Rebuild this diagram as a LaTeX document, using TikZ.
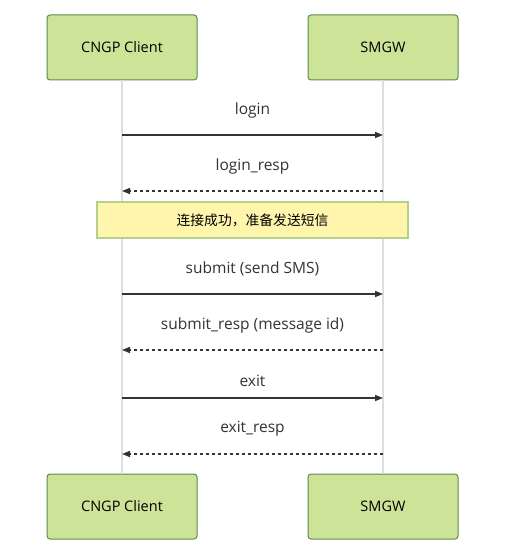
\documentclass[tikz,border=0pt]{standalone}
\usepackage{fontspec}
\setmainfont{Open Sans}
\newfontfamily\cjk{Noto Sans CJK SC}
\usetikzlibrary{arrows.meta}
\definecolor{actorfill}{HTML}{CDE498}
\definecolor{actorline}{HTML}{5E8A4A}
\definecolor{notefill}{HTML}{FFF5AD}
\definecolor{noteline}{HTML}{B4D08C}
\definecolor{msgline}{HTML}{333333}
\tikzset{
  actor/.style={draw=actorline, fill=actorfill, line width=1pt, rounded corners=3pt,
    minimum width=150pt, minimum height=65pt, inner sep=0pt, font=\fontsize{14.5}{16}\selectfont},
  lifeline/.style={draw=black!13, line width=1.5pt},
  msg/.style={draw=msgline, line width=1.5pt, -{Triangle[length=8pt,width=6pt]}},
  reply/.style={msg, dash pattern=on 3pt off 3pt},
  lbl/.style={font=\fontsize{15.5}{18}\selectfont, text=msgline, inner sep=0pt},
  notebox/.style={draw=noteline, fill=notefill, line width=1.5pt, minimum width=311pt,
    minimum height=36pt, inner sep=0pt, font=\cjk\fontsize{13.8}{15}\selectfont}
}
\begin{document}
\begin{tikzpicture}[x=1pt,y=-1pt]
\useasboundingbox (0,0) rectangle (507,556);
% participants
\node[actor] (cTop) at (122,47.5) {CNGP Client};
\node[actor] (sTop) at (383,47.5) {SMGW};
\node[actor] (cBot) at (122,506.5) {CNGP Client};
\node[actor] (sBot) at (383,506.5) {SMGW};
\draw[lifeline] (cTop.south) -- (cBot.north);
\draw[lifeline] (sTop.south) -- (sBot.north);
% message ends and labels
\foreach \i/\y/\ly/\txt in {1/135/110/login, 2/191/166/login\textunderscore resp,
    3/294/269/submit (send SMS), 4/350/325/submit\textunderscore resp (message id),
    5/398/381/exit, 6/454/429/exit\textunderscore resp}{
  \coordinate (c\i) at (122,\y);
  \coordinate (s\i) at (383,\y);
  \node[lbl] (m\i) at (252.5,\ly) {\txt};
}
\draw[msg] (c1) -- (s1);
\draw[reply] (s2) -- (c2);
\draw[msg] (c3) -- (s3);
\draw[reply] (s4) -- (c4);
\draw[msg] (c5) -- (s5);
\draw[reply] (s6) -- (c6);
% note
\node[notebox] (note) at (252.5,220) {连接成功，准备发送短信};
\end{tikzpicture}
\end{document}
